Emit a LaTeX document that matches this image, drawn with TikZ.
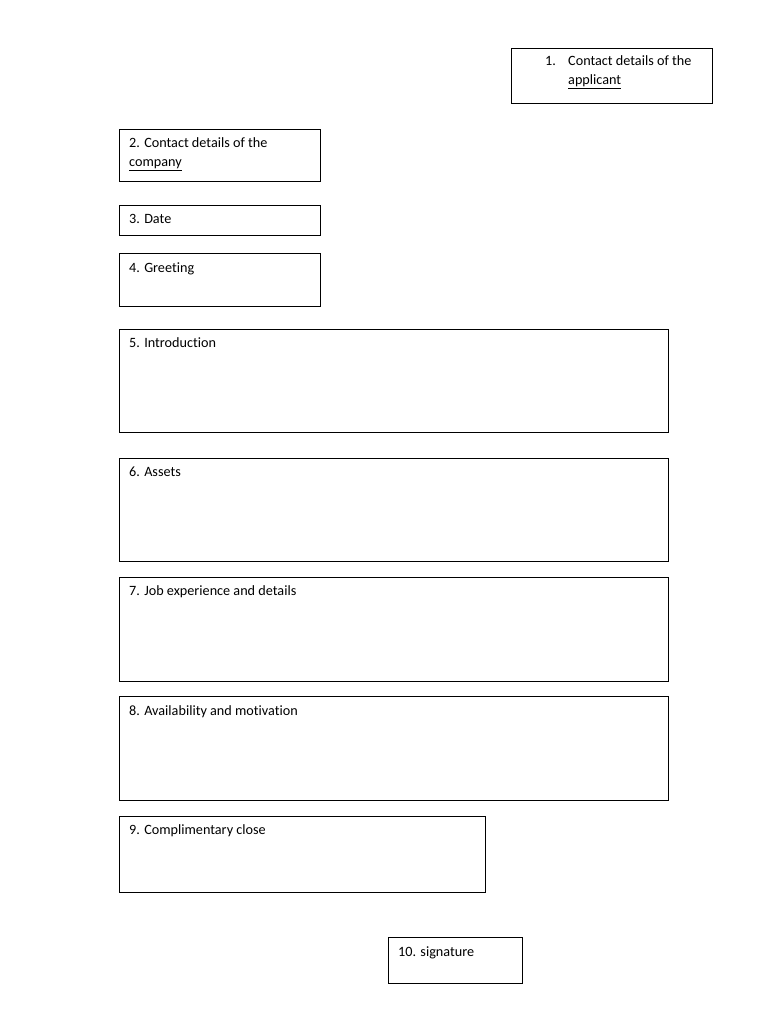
\documentclass[tikz,border=0pt]{standalone}
\usepackage{fontspec}
\setmainfont{Carlito}[Ligatures=NoCommon]
\begin{document}
\begin{tikzpicture}[x=1pt,y=-1pt,
  box/.style={draw=black,line width=1pt,inner sep=0pt,anchor=north west},
  lbl/.style={anchor=base west,inner sep=0pt,font=\fontsize{14.2}{19}\selectfont}]
\useasboundingbox (0,0) rectangle (768,1024);
\newcommand{\mybox}[5]{%
  \node[box,minimum width={#4-#2},minimum height={#5-#3}] (#1) at (#2,#3) {};}
\mybox{b1}{511}{48}{712}{103}
\mybox{b2}{119}{129}{320}{181}
\mybox{b3}{119}{205}{320}{235}
\mybox{b4}{119}{253}{320}{306}
\mybox{b5}{119}{329}{668}{432}
\mybox{b6}{119}{458}{668}{561}
\mybox{b7}{119}{577}{668}{681}
\mybox{b8}{119}{696}{668}{800}
\mybox{b9}{119}{816}{485}{892}
\mybox{b10}{388}{937}{522}{983}
\node[lbl] (t1a) at (545,66) {1.};
\node[lbl] (t1b) at (568,66) {Contact details of the};
\node[lbl] (t1c) at (568,85) {\underline{applicant}};
\node[lbl] (t2a) at (129,148) {2. Contact details of the};
\node[lbl] (t2b) at (129,167) {\underline{company}};
\node[lbl] (t3) at (129,223) {3. Date};
\node[lbl] (t4) at (129,272) {4. Greeting};
\node[lbl] (t5) at (129,347) {5. Introduction};
\node[lbl] (t6) at (129,476) {6. Assets};
\node[lbl] (t7) at (129,595) {7. Job experience and details};
\node[lbl] (t8) at (129,715) {8. Availability and motivation};
\node[lbl] (t9) at (129,834) {9. Complimentary close};
\node[lbl] (t10) at (398,956) {10. signature};
\end{tikzpicture}
\end{document}
